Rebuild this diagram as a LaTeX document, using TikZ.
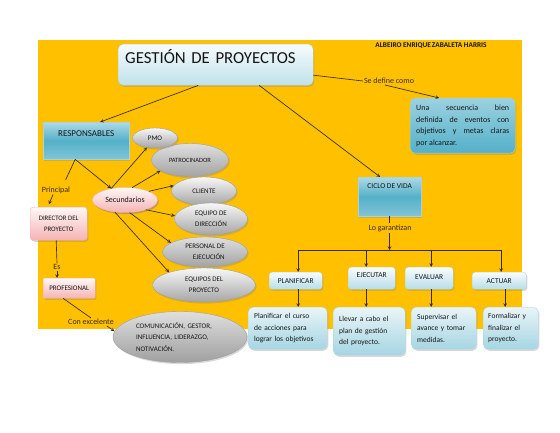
\documentclass[tikz,border=0pt]{standalone}
\usepackage{fontspec}
\setmainfont{Carlito}
\usetikzlibrary{arrows,positioning,shapes,shadows,calc}
\definecolor{naranja}{HTML}{FFC000}
\definecolor{trazo}{HTML}{3B2B14}
\definecolor{texto}{HTML}{161616}
\definecolor{celeste}{HTML}{4BACC6}
\newcommand{\fs}[2]{\fontsize{#1}{#2}\selectfont}

\begin{document}
\begin{tikzpicture}[x=1pt,y=-1pt,>=stealth,
  sombra/.style={drop shadow={shadow xshift=1.2pt,shadow yshift=-1.6pt,opacity=0.3}},
  cajaclara/.style={sombra,draw=celeste!45,rounded corners=3pt,top color=celeste!4,bottom color=celeste!40,text=texto,inner sep=0pt},
  cajaazul/.style={sombra,draw=celeste!50,top color=celeste!45,bottom color=celeste!70,middle color=celeste!95,text=texto,inner sep=0pt},
  cajarosa/.style={sombra,draw=red!30!white,rounded corners=3pt,top color=red!3,bottom color=red!28!white!92!gray,text=texto,inner sep=0pt},
  elipse/.style={ellipse,sombra,draw=gray!75,top color=gray!6,bottom color=gray!70,text=texto,inner sep=0pt,align=center,font=\fs{7}{11}},
  etiq/.style={text=trazo,inner sep=1pt,font=\fs{8}{9.5}},
  linea/.style={draw=trazo,line width=0.65pt},
  flecha/.style={linea,->}]
% Fondo
  \useasboundingbox (0,0) rectangle (560,433);
  \fill[white] (0,0) rectangle (560,433);
  \fill[naranja] (38,40) rectangle (522,329);
% Titulo
  \node[cajaclara,rounded corners=5pt,top color=celeste!5,bottom color=celeste!35,anchor=north west,text width=181,align=left,inner xsep=7pt,
    text height=19,text depth=22,font=\fs{16.8}{19}] (titulo) at (118,44) {GESTIÓN DE PROYECTOS};
  \node[text=texto,font=\bfseries\fs{7.3}{8}] (autor) at (431,46) {ALBEIRO ENRIQUE\hspace{1pt}ZABALETA HARRIS};
  \node[etiq] (define) at (389,81) {Se define como};
  \node[cajaazul,rounded corners=5pt,top color=celeste!55,middle color=celeste!80,bottom color=celeste!95,anchor=north west,minimum height=55,text width=93,inner xsep=6pt,
    align=justify,font=\fs{8}{11.5}] (secuencia) at (410,98)
    {Una secuencia bien\linebreak definida de eventos con\linebreak objetivos y metas claras\linebreak por alcanzar.};
% Responsables
  \node[cajaazul,anchor=north west,minimum width=86,text height=14,text depth=23,font=\fs{9}{11}] (resp) at (43,122) {RESPONSABLES};
  \node[elipse,minimum width=77,minimum height=33,top color=gray!25,bottom color=gray!72,font=\fs{6.5}{8}] (patro) at (190,160) {PATROCINADOR};
  \node[elipse,minimum width=45,minimum height=20] (pmo) at (155,138) {PMO};
  \node[elipse,minimum width=65,minimum height=28] (cliente) at (204,191) {CLIENTE};
  \node[elipse,minimum width=73,minimum height=32] (direccion) at (211,219) {EQUIPO DE\\DIRECCIÓN};
  \node[elipse,minimum width=85,minimum height=30,top color=gray!25,bottom color=gray!72,align=right] (personal) at (205,252) {PERSONAL DE\\EJECUCIÓN};
  \node[elipse,minimum width=103,minimum height=34] (equipos) at (204,285) {EQUIPOS DEL\\PROYECTO};
  \node[elipse,cajarosa,rounded corners=0pt,minimum width=65,minimum height=25,font=\fs{8}{9.5}] (sec) at (125,200) {Secundarios};
  \node[etiq] (principal) at (56,190) {Principal};
  \node[cajarosa,anchor=north west,minimum width=57,minimum height=33,align=center,font=\fs{6.8}{11}] (director) at (30,207) {DIRECTOR DEL\\PROYECTO};
  \node[etiq] (es) at (57,267) {Es};
  \node[cajarosa,rounded corners=1pt,anchor=north west,minimum width=52,minimum height=20,font=\fs{7}{8}] (profesional) at (43,278) {PROFESIONAL};
  \node[etiq] (conexc) at (91,322) {Con excelente};
  \node[elipse,minimum width=134,minimum height=51,text width=88,align=left,top color=gray!25,bottom color=gray!75,font=\fs{7}{11.5}] (comunic) at (180,337)
    {COMUNICACIÓN, GESTOR,\\INFLUENCIA, LIDERAZGO,\\NOTIVACIÓN.};
% Ciclo de vida
  \node[cajaazul,anchor=north west,minimum width=63,text height=11,text depth=28,font=\fs{7.5}{9}] (ciclo) at (358,177) {CICLO DE VIDA};
  \node[etiq] (garant) at (390,228) {Lo garantizan};
  \coordinate (barra) at (389.5,250);
  \node[cajaclara,anchor=north west,minimum width=53,minimum height=17,font=\fs{7.5}{9}] (plan) at (269,272) {PLANIFICAR};
  \node[cajaclara,anchor=north west,minimum width=47,text height=10,text depth=12,font=\fs{7.5}{9}] (ejec) at (348,267) {EJECUTAR};
  \node[cajaclara,anchor=north west,minimum width=48,text height=12,text depth=10,font=\fs{7.5}{9}] (eval) at (405,267) {EVALUAR};
  \node[cajaclara,anchor=north west,minimum width=54,minimum height=17,font=\fs{7.5}{9}] (actuar) at (472,272) {ACTUAR};
  \node[cajaclara,rounded corners=5pt,top color=celeste!12,bottom color=celeste!50,anchor=north west,minimum height=42,text width=67,inner xsep=6pt,align=left,font=\fs{7.5}{11.5}] (t1) at (248,307)
    {Planificar el curso\\de acciones para\\lograr los objetivos};
  \node[cajaclara,rounded corners=5pt,top color=celeste!12,bottom color=celeste!50,anchor=north west,minimum height=48,text width=60,inner xsep=6pt,align=left,font=\fs{7.5}{11.5}] (t2) at (333,307)
    {Llevar a cabo el\\plan de gestión\\del proyecto.};
  \node[cajaclara,rounded corners=5pt,top color=celeste!12,bottom color=celeste!50,anchor=north west,minimum height=42,text width=53,inner xsep=6pt,align=left,font=\fs{7.5}{11.5}] (t3) at (411,307)
    {Supervisar el\\avance y tomar\\medidas.};
  \node[cajaclara,rounded corners=5pt,top color=celeste!12,bottom color=celeste!50,anchor=north west,minimum height=42,text width=45,inner xsep=5pt,align=left,font=\fs{7.5}{11.5}] (t4) at (483,307)
    {Formalizar y\\finalizar el\\proyecto.};
% Conectores del titulo
  \draw[flecha] ([xshift=-17.5]titulo.south) -- ([xshift=14]resp.north);
  \draw[flecha] ([xshift=43.5]titulo.south) -- ([xshift=-9.5]ciclo.north);
  \draw[linea] ([yshift=-10.5]titulo.east) -- (define.west);
  \draw[flecha] ([xshift=-4]define.south) -- ([xshift=-23.5]secuencia.north);
% Conectores de responsables
  \draw[linea,shorten >=6pt] ([xshift=-11]resp.south) -- ([xshift=7]principal.north);
  \draw[flecha] ([xshift=-11]resp.south) -- (sec.140);
  \draw[flecha,shorten >=3pt] ([xshift=-3]principal.south) -- ([xshift=-11]director.north);
  \draw[flecha] (sec.140) -- (pmo.230);
  \draw[flecha] (sec.60) -- (patro.200);
  \draw[flecha] (sec.20) -- (cliente.170);
  \draw[flecha] (sec.-25) -- (direccion.175);
  \draw[flecha] (sec.-70) -- (personal.165);
  \draw[flecha] (sec.-130) -- (equipos.160);
  \draw[linea] ([xshift=-2.5]director.south) -- (es.north);
  \draw[flecha] (es.south) -- (es.south |- profesional.north);
  \draw[linea] ([xshift=-6]profesional.south) -- (conexc.north);
  \draw[flecha] ([xshift=-8]conexc.south east) -- (comunic.175);
% Conectores del ciclo
  \draw[linea] (ciclo.south) -- (ciclo.south |- garant.north);
  \draw[flecha] (garant.south -| barra) -- (barra);
  \draw[linea] ($(plan.north |- barra)+(2.5,0)$) -- ($(actuar.north |- barra)+(2,0)$);
  \draw[flecha] ($(plan.north |- barra)+(2.5,0)$) -- ($(plan.north)+(2.5,0)$);
  \draw[flecha] ($(ejec.north |- barra)+(-5.5,0)$) -- ($(ejec.north)+(-5.5,0)$);
  \draw[flecha] ($(eval.north |- barra)+(2,0)$) -- ($(eval.north)+(2,0)$);
  \draw[flecha] ($(actuar.north |- barra)+(2,0)$) -- ($(actuar.north)+(2,0)$);
  \draw[flecha] ($(plan.south)+(2.5,0)$) -- ($(plan.south |- t1.north)+(2.5,0)$);
  \draw[flecha] ($(ejec.south)+(-5.5,0)$) -- ($(ejec.south |- t2.north)+(-5.5,0)$);
  \draw[flecha] ($(eval.south)+(2,0)$) -- ($(eval.south |- t3.north)+(2,0)$);
  \draw[flecha] ($(actuar.south)+(6,0)$) -- ($(actuar.south |- t4.north)+(6,0)$);
\end{tikzpicture}
\end{document}
